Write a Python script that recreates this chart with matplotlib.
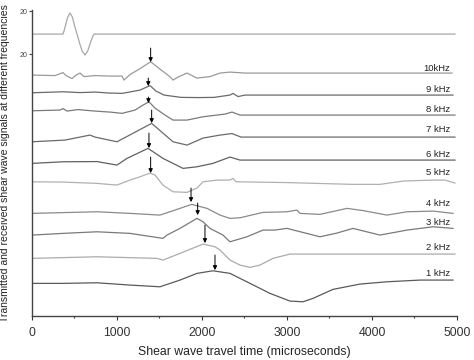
import matplotlib.pyplot as plt
from matplotlib.ticker import MultipleLocator

plt.rcParams['font.family'] = ['Liberation Sans', 'DejaVu Sans']

# time axis is in microseconds, y values are in stacked plot units
tx_t = [0, 365, 380, 395, 420, 447, 475, 505, 530, 560, 590, 624, 655, 690, 712, 730, 4976]
tx_y = [282, 282, 286, 291, 299, 303, 299, 289, 282, 273, 265, 261, 265, 274, 279, 282, 282]

t10 = [0, 271, 365, 400, 471, 518, 565, 612, 741, 918, 1059, 1082, 1153, 1271, 1396,
       1506, 1624, 1659, 1718, 1824, 1941, 2094, 2212, 2329, 2506, 4941]
y10 = [241, 240.5, 243.5, 240.5, 237.5, 241, 243, 239.5, 240.5, 240, 240, 236, 241.5, 247.5, 254.3,
       247, 239.3, 236, 239, 243, 238, 239.5, 243, 244, 243, 243]

t9 = [0, 365, 565, 741, 918, 1059, 1271, 1388, 1459, 1553, 1753, 1953, 2141, 2329, 2365, 2424, 2506, 4953]
y9 = [223.3, 224.3, 223.5, 224, 223, 222.7, 226, 230.5, 225, 221, 218.7, 218.5, 218.7, 221, 222.7, 219.5, 221, 221]

t8 = [0, 329, 365, 412, 541, 741, 918, 1059, 1212, 1306, 1376, 1447, 1565, 1659, 1824, 2012, 2271, 2353, 2447, 4976]
y8 = [205.3, 206, 207.5, 205, 206.5, 205, 204, 202.7, 206, 211, 214.3, 208, 201, 196, 196, 199.3, 202, 204, 201, 201]

t7 = [0, 388, 682, 741, 1000, 1408, 1659, 1824, 2012, 2212, 2353, 2459, 4976]
y7 = [174.3, 176, 181, 179, 174.3, 192.7, 174.3, 171, 178, 181, 182.5, 179, 179]

t6 = [0, 365, 765, 1000, 1118, 1365, 1541, 1776, 1941, 2129, 2329, 2447, 4976]
y6 = [152.7, 154.3, 154.5, 151, 157.7, 167.7, 157.7, 147.7, 149.3, 152.7, 159, 156, 156]

t5 = [0, 365, 765, 1000, 1153, 1271, 1388, 1447, 1541, 1659, 1824, 1941, 2012, 2176, 2329, 2365, 2400,
      3000, 3776, 4094, 4365, 4718, 4859, 4976]
y5 = [134.3, 134, 132.7, 131, 136, 139.3, 143, 141, 131, 124.3, 123.7, 128, 134.3, 136, 136, 137.7, 134.3,
      133.5, 131.7, 131.7, 135, 136, 136, 133]

t4 = [0, 765, 1153, 1506, 1682, 1879, 2059, 2212, 2329, 2447, 2718, 3000, 3118, 3153, 3388, 3706, 3894,
      4176, 4412, 4718, 4953]
y4 = [102.7, 104.3, 102.7, 101, 106, 111.7, 107.7, 101, 97.7, 98.3, 103.7, 104.3, 106, 102.7, 101.7, 107.7, 105.5,
      101, 104.3, 105, 102.7]

t3 = [0, 365, 765, 1153, 1541, 1588, 1741, 1941, 2012, 2094, 2247, 2329, 2529, 2718, 2859, 3000, 3388, 3588,
      3776, 4094, 4412, 4718, 4953]
y3 = [81, 82.7, 84.3, 82.7, 77.7, 81, 87.7, 97.7, 94.3, 87.7, 81, 74.3, 79.3, 86, 86, 87.7, 79.3, 83,
      87.7, 81, 86, 89.3, 87.7]

t2 = [0, 765, 1471, 1541, 1741, 2012, 2153, 2212, 2329, 2447, 2565, 2682, 2835, 3035, 4976]
y2 = [57.7, 59.3, 57.7, 56, 62.7, 72, 69.3, 66, 56, 51, 48.7, 51, 57.7, 62, 62]

t1 = [0, 365, 765, 1153, 1506, 1741, 1941, 2129, 2329, 2565, 2800, 3035, 3188, 3306, 3541, 3859, 4176, 4565, 4953]
y1 = [32.7, 32.7, 33.3, 31, 29.3, 36, 42.7, 45.3, 42.7, 32.7, 22.7, 15, 14.3, 17.7, 26.7, 32, 34.3, 36, 36]

labels = ["10kHz", "9 kHz", "8 kHz", "7 kHz", "6 kHz", "5 kHz", "4 kHz", "3 kHz", "2 kHz", "1 kHz"]
label_y = [248, 227, 207, 187, 162, 144, 113, 94, 69, 43]

# picked arrival times and arrow extents
arrow_t = [1396, 1368, 1370, 1408, 1376, 1396, 1871, 1949, 2035, 2153]
arrow_top = [268, 238, 219, 206, 183, 159, 128, 113, 91, 61]
arrow_tip = [254, 230, 213, 193, 168, 143, 114, 101, 73, 46]

traces = [(t10, y10), (t9, y9), (t8, y8), (t7, y7), (t6, y6),
          (t5, y5), (t4, y4), (t3, y3), (t2, y2), (t1, y1)]
colors = ['#9a9a9a', '#6a6a6a', '#7a7a7a', '#6a6a6a', '#606060',
          '#b0b0b0', '#8a8a8a', '#7a7a7a', '#ababab', '#5a5a5a']

fig = plt.figure(figsize=(4.74, 3.6), dpi=100)
ax = fig.add_axes([0.0675, 0.122, 0.8966, 0.85])

ax.plot(tx_t, tx_y, color='#a8a8a8', lw=0.9)
for (t, y), c in zip(traces, colors):
    ax.plot(t, y, color=c, lw=0.9)

for x, y0, y1_ in zip(arrow_t, arrow_top, arrow_tip):
    ax.annotate('', xy=(x, y1_), xytext=(x, y0),
                arrowprops=dict(arrowstyle='-|>', color='black', lw=0.7,
                                mutation_scale=6, shrinkA=0, shrinkB=0))

for lab, ly in zip(labels, label_y):
    ax.text(4915, ly, lab, ha='right', va='center', fontsize=6.8, color='#222222')

ax.set_xlim(0, 5000)
ax.set_ylim(0, 306)
ax.xaxis.set_major_locator(MultipleLocator(1000))
ax.xaxis.set_minor_locator(MultipleLocator(500))
ax.set_yticks([262, 305])
ax.set_yticklabels(['20', '20'], fontsize=5)
ax.tick_params(axis='x', labelsize=8.8, direction='out', length=3, width=0.8, colors='#333333', pad=5)
ax.tick_params(axis='x', which='minor', direction='out', length=1.5, width=0.8, colors='#333333')
ax.tick_params(axis='y', direction='out', length=2, width=0.8, colors='#444444', pad=1.5)

for s in ['top', 'right']:
    ax.spines[s].set_visible(False)
for s in ['left', 'bottom']:
    ax.spines[s].set_color('#444444')
    ax.spines[s].set_linewidth(1.0)

ax.set_xlabel("Shear wave travel time (microseconds)", fontsize=8.8, color='#222222', labelpad=5)
ax.set_ylabel("Transmitted and received shear wave signals at different frequencies",
              fontsize=7.5, color='#222222')
ax.yaxis.set_label_coords(-0.052, 0.5)

fig.savefig("out.png", dpi=100)
